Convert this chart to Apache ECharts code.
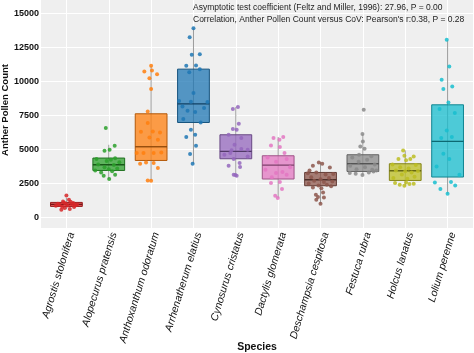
<!DOCTYPE html>
<html>
<head>
<meta charset="utf-8">
<script src="https://cdn.jsdelivr.net/npm/echarts@6/dist/echarts.min.js"></script>
<style>
html, body { margin: 0; padding: 0; background: #fff; }
#main { width: 474px; height: 353px; }
</style>
</head>
<body>
<div id="main"></div>
<script>
var species = ['Agrostis  stolonifera', 'Alopecurus pratensis', 'Anthoxanthum  odoratum', 'Arrhenatherum  elatius',
  'Cynosurus  cristatus', 'Dactylis  glomerata', 'Deschampsia  cespitosa', 'Festuca  rubra', 'Holcus  lanatus', 'Lolium  perenne'];

// min, Q1, median, Q3, max (whisker ends)
var boxStats = [
  [600, 809, 956, 1103, 1450],
  [2824, 3456, 3875, 4368, 5346],
  [2721, 4191, 5199, 7625, 11155],
  [3949, 6985, 8360, 10912, 13926],
  [3066, 4316, 4853, 6081, 8118],
  [1426, 2824, 3853, 4537, 5912],
  [1007, 2331, 2772, 3309, 4044],
  [3118, 3382, 3949, 4610, 6132],
  [2331, 2721, 3434, 3949, 4927],
  [1743, 2970, 5588, 8287, 13066]
];

// individual anther counts (jittered points)
var agrostisValues = [1617, 1176, 1301, 934, 1059, 691, 618, 566, 900, 850, 980, 1020, 880, 1000, 760, 950, 780, 1150, 1080, 870];
var alopecurusValues = [6574, 5272, 4978, 4900, 4350, 4300, 4250, 4150, 4050, 3900, 3850, 3700, 3600, 3550, 3450, 3400, 3300, 3066, 2824, 3140];
var anthoxanthumValues = [11155, 10735, 10809, 10544, 10250, 9441, 7794, 6941, 6302, 6324, 6250, 5882, 5713, 4735, 4735, 4735, 4780, 3949, 4044, 4000, 3632, 2721, 2700];
var arrhenatherumValues = [13926, 13265, 11963, 12015, 11155, 11177, 10691, 10900, 9147, 8559, 8507, 8162, 8044, 7846, 7750, 8500, 7235, 6985, 6449, 6081, 5912, 5272, 4662, 3949];
var cynosurusValues = [8118, 7971, 6890, 6500, 6449, 6081, 5838, 5346, 5029, 4950, 4980, 4735, 4610, 4485, 4294, 4000, 3801, 3706, 3140, 3066, 3118];
var dactylisValues = [5838, 5912, 5713, 5294, 5176, 4735, 4400, 4300, 4100, 3700, 3500, 3350, 3265, 3140, 2950, 2529, 2603, 2088, 1596, 1426];
var deschampsiaValues = [4044, 3949, 3801, 3677, 3450, 3250, 3200, 3300, 3150, 2950, 2900, 2800, 2700, 2650, 2600, 2500, 2400, 2350, 2300, 2200, 2150, 1669, 1500, 1838, 1301, 1470, 1007];
var festucaValues = [7919, 6132, 5588, 5221, 5052, 4610, 4500, 4400, 4243, 4100, 3900, 3800, 3700, 3550, 3500, 3265, 3220, 3118, 3300, 3382, 3450];
var holcusValues = [4927, 4294, 4537, 4294, 4485, 4200, 3900, 3850, 3700, 3600, 3450, 3420, 3400, 3300, 3150, 3000, 2900, 2850, 2529, 2404, 2331, 2456, 2478, 2573];
var loliumValues = [13066, 11103, 10125, 9441, 9632, 8456, 7971, 7677, 6397, 5838, 5912, 4684, 4294, 3750, 3140, 2574, 2088, 2603, 2353, 1743];

// horizontal jitter of each point (fraction of a category)
var agrostisJitter = [0, -0.08, 0.06, -0.16, 0.16, -0.04, 0.08, -0.12, 0.22, -0.25, 0.12, -0.02, 0.03, -0.2, 0.18, 0.25, -0.1, 0.1, -0.06, 0.2];
var alopecurusJitter = [-0.07, 0.14, 0.02, -0.1, 0.15, -0.29, 0.05, -0.05, 0.25, -0.25, 0.12, -0.1, 0.2, 0, -0.32, 0.08, -0.18, -0.12, 0.01, 0.15];
var anthoxanthumJitter = [0, -0.16, 0.02, 0.14, -0.04, 0, -0.08, -0.08, -0.24, 0.04, 0.21, -0.04, 0.16, -0.34, -0.18, 0.06, 0.24, -0.26, -0.12, 0.06, 0.16, -0.08, 0];
var arrhenatherumJitter = [0, -0.09, -0.04, 0.15, -0.17, 0.06, -0.1, 0.15, 0, -0.34, -0.06, -0.26, 0.25, -0.14, 0.04, 0.33, -0.24, 0.17, -0.06, 0.04, -0.17, 0.06, -0.08, -0.02];
var cynosurusJitter = [0.05, -0.07, 0.07, -0.07, 0.02, -0.17, 0.13, -0.03, 0.13, -0.1, 0.28, -0.13, -0.27, 0.28, -0.05, 0.09, -0.17, 0.1, -0.05, 0.02, -0.01];
var dactylisJitter = [-0.11, 0.12, 0.03, -0.17, 0.04, 0.15, -0.25, 0.2, -0.05, 0.28, -0.3, 0.1, -0.05, 0.2, -0.15, -0.17, 0.04, 0.09, -0.07, -0.01];
var deschampsiaJitter = [-0.04, 0.04, -0.18, 0.22, -0.26, -0.3, 0.3, -0.1, 0.12, -0.22, 0.2, 0, -0.15, 0.28, 0.08, -0.28, 0.15, -0.05, 0.25, -0.18, 0.02, -0.11, -0.06, 0.06, -0.1, 0.08, 0];
var festucaJitter = [0.02, -0.01, 0, -0.06, 0.04, -0.09, 0.2, -0.25, 0.1, -0.1, 0.28, -0.3, 0.05, -0.15, 0.22, -0.31, -0.17, -0.01, 0.14, 0.25, 0.32];
var holcusJitter = [-0.05, -0.16, -0.02, 0.12, 0.2, 0.02, -0.3, 0.25, -0.12, 0.08, -0.22, 0.3, 0, 0.15, -0.08, 0.22, -0.28, 0.05, -0.24, -0.13, -0.02, 0.1, 0.2, 0.02];
var loliumJitter = [-0.02, 0.04, -0.14, -0.1, 0.11, 0.02, -0.19, 0.17, -0.02, -0.15, 0.1, -0.1, 0.04, -0.26, 0.28, -0.3, -0.17, 0.08, 0.18, 0];

var yTicks = [0, 2500, 5000, 7500, 10000, 12500, 15000];
var xTicks = [1, 2, 3, 4, 5, 6, 7, 8, 9, 10];

var annotation = [
  'Asymptotic test coefficient (Feltz and Miller, 1996): 27.96, P = 0.00',
  'Correlation, Anther Pollen Count versus CoV: Pearson\'s r:0.38, P = 0.28'
];

var pointValues = [agrostisValues, alopecurusValues, anthoxanthumValues, arrhenatherumValues, cynosurusValues,
  dactylisValues, deschampsiaValues, festucaValues, holcusValues, loliumValues];
var pointJitter = [agrostisJitter, alopecurusJitter, anthoxanthumJitter, arrhenatherumJitter, cynosurusJitter,
  dactylisJitter, deschampsiaJitter, festucaJitter, holcusJitter, loliumJitter];

var colors = ['#d62728', '#2ca02c', '#ff7f0e', '#1f77b4', '#9467bd', '#e377c2', '#8c564b', '#8a8a8a', '#bcbd22', '#17becf'];
var font = "'Liberation Sans', Arial, sans-serif";

function rgb(hex) {
  var n = parseInt(hex.slice(1), 16);
  return [(n >> 16) & 255, (n >> 8) & 255, n & 255];
}
function shade(hex, f) {
  var c = rgb(hex);
  return 'rgb(' + Math.round(c[0] * f) + ',' + Math.round(c[1] * f) + ',' + Math.round(c[2] * f) + ')';
}
function fade(hex, a) {
  var c = rgb(hex);
  return 'rgba(' + c[0] + ',' + c[1] + ',' + c[2] + ',' + a + ')';
}

var chart = echarts.init(document.getElementById('main'));

var series = [{
  type: 'custom',
  z: 2,
  encode: { x: 0, y: [1, 2, 3, 4, 5] },
  data: boxStats.map(function (s, i) { return [i + 1].concat(s); }),
  renderItem: function (params, api) {
    var i = params.dataIndex;
    var x = api.value(0);
    var w = api.size([0.75, 0])[0];
    var pMin = api.coord([x, api.value(1)]);
    var pQ1 = api.coord([x, api.value(2)]);
    var pMed = api.coord([x, api.value(3)]);
    var pQ3 = api.coord([x, api.value(4)]);
    var pMax = api.coord([x, api.value(5)]);
    var c = colors[i];
    return {
      type: 'group',
      children: [
        { type: 'line', shape: { x1: pMin[0], y1: pMin[1], x2: pMax[0], y2: pMax[1] },
          style: { stroke: '#9c9c9c', lineWidth: 1 } },
        { type: 'rect', shape: { x: pQ3[0] - w / 2, y: pQ3[1], width: w, height: pQ1[1] - pQ3[1] },
          style: { fill: fade(c, 0.75), stroke: shade(c, 0.7), lineWidth: 1 } },
        { type: 'line', shape: { x1: pMed[0] - w / 2, y1: pMed[1], x2: pMed[0] + w / 2, y2: pMed[1] },
          style: { stroke: shade(c, 0.55), lineWidth: 1.3 } }
      ]
    };
  }
}];

species.forEach(function (name, i) {
  series.push({
    type: 'scatter',
    name: name,
    z: 3,
    symbolSize: 4,
    itemStyle: { color: colors[i], opacity: 0.85 },
    data: pointValues[i].map(function (v, k) { return [i + 1 + pointJitter[i][k], v]; })
  });
});

var option = {
  animation: false,
  textStyle: { fontFamily: font },
  title: {
    text: annotation.join('\n'),
    left: 193,
    top: 1,
    padding: 0,
    textStyle: { fontSize: 8.5, fontWeight: 'normal', color: '#222', lineHeight: 12.7, fontFamily: font }
  },
  grid: {
    left: 41, right: 1, top: 0, bottom: 125,
    outerBoundsMode: 'none',
    containLabel: false,
    show: true, backgroundColor: '#efefef', borderWidth: 0
  },
  xAxis: {
    type: 'value',
    min: 0.4,
    max: 10.6,
    name: 'Species',
    nameLocation: 'middle',
    nameGap: 114,
    nameMoveOverlap: false,
    nameTextStyle: { fontSize: 10.5, fontWeight: 'bold', color: '#111', fontFamily: font },
    axisLine: { show: false },
    axisTick: { show: false, customValues: xTicks },
    axisLabel: {
      customValues: xTicks,
      formatter: function (v) { return species[Math.round(v) - 1].replace(/  /g, ' '); },
      rotate: 73,
      verticalAlign: 'top',
      fontStyle: 'italic',
      fontSize: 10.5,
      color: '#111',
      margin: 3,
      fontFamily: font
    },
    splitLine: { show: true, lineStyle: { color: '#ffffff', width: 1 } }
  },
  yAxis: {
    type: 'value',
    min: -780,
    max: 16000,
    name: 'Anther Pollen Count',
    nameLocation: 'middle',
    nameGap: 31,
    nameMoveOverlap: false,
    nameTextStyle: { fontSize: 9.5, fontWeight: 'bold', color: '#111', fontFamily: font, padding: [0, 0, 0, 8] },
    axisLine: { show: false },
    axisTick: { show: false, customValues: yTicks },
    axisLabel: {
      customValues: yTicks,
      formatter: function (v) { return String(v); },
      fontSize: 9, fontWeight: 'bold', color: '#111', margin: 2, fontFamily: font
    },
    splitLine: { show: true, lineStyle: { color: '#ffffff', width: 1 } }
  },
  series: series
};

chart.setOption(option);
</script>
</body>
</html>
